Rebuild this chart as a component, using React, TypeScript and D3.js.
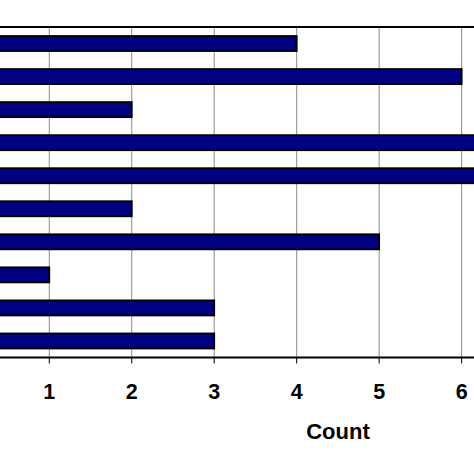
import React from "react";
import * as d3 from "d3";

const categories = ["A", "B", "C", "D", "E", "F", "G", "H", "I", "J"];
const counts = [4, 6, 2, 7, 7, 2, 5, 1, 3, 3];
const tickValues = [1, 2, 3, 4, 5, 6];
const axisTitle = "Count";

export default function App() {
  const W = 474;
  const H = 474;
  const top = 27;
  const bottom = 357.5;
  const x = d3.scaleLinear().domain([0, 9]).range([-33.2, -33.2 + 9 * 82.47]);
  const y = d3
    .scaleBand<string>()
    .domain(categories)
    .range([top, bottom])
    .paddingInner(0.545)
    .paddingOuter(0.2725);
  const font = "Arial, 'Liberation Sans', Helvetica, sans-serif";
  return (
    <svg
      width={W}
      height={H}
      style={{ position: "absolute", left: 0, top: 0, background: "#fff" }}
    >
      {tickValues.map((t) => (
        <line
          key={"g" + t}
          x1={x(t)}
          x2={x(t)}
          y1={top}
          y2={bottom}
          stroke="#8c8c8c"
          strokeWidth={1}
        />
      ))}
      {categories.map((c, i) => (
        <rect
          key={c}
          x={x(0)}
          y={y(c)}
          width={x(counts[i]) - x(0)}
          height={y.bandwidth()}
          fill="#000080"
          stroke="#000"
          strokeWidth={1.8}
        />
      ))}
      <line x1={0} x2={W} y1={top} y2={top} stroke="#000" strokeWidth={2} />
      <line x1={0} x2={W} y1={bottom} y2={bottom} stroke="#000" strokeWidth={2} />
      {tickValues.map((t) => (
        <g key={"t" + t}>
          <line x1={x(t)} x2={x(t)} y1={bottom} y2={bottom + 6} stroke="#000" strokeWidth={1} />
          <text
            x={x(t)}
            y={399}
            textAnchor="middle"
            fontFamily={font}
            fontWeight="bold"
            fontSize={21.5}
            fill="#000"
          >
            {t}
          </text>
        </g>
      ))}
      <text
        x={338}
        y={438.5}
        textAnchor="middle"
        fontFamily={font}
        fontWeight="bold"
        fontSize={22}
        fill="#000"
      >
        {axisTitle}
      </text>
    </svg>
  );
}
